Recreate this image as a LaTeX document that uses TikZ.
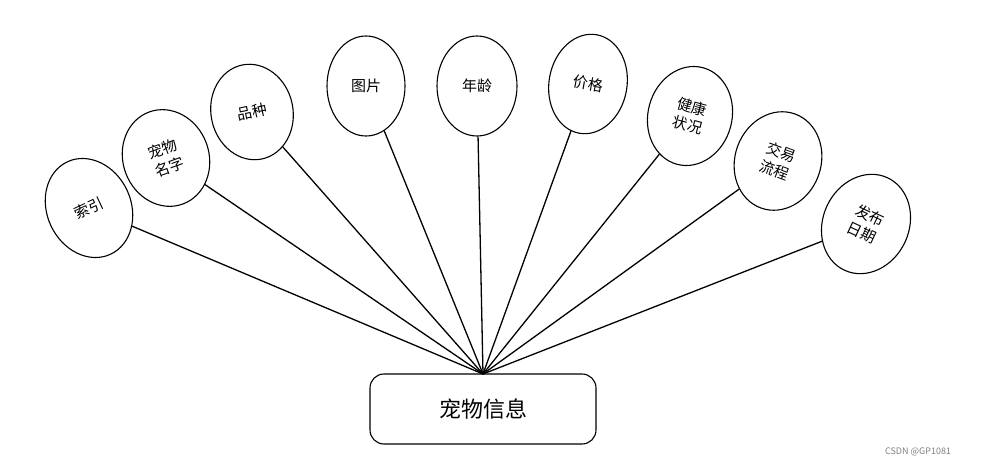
\documentclass[tikz,border=0pt]{standalone}
\usepackage{fontspec}
\setmainfont{Noto Sans CJK SC}
\usetikzlibrary{shapes.geometric}
\begin{document}
\begin{tikzpicture}[x=1pt,y=-1pt,
  attr/.style={draw,line width=1.1pt,ellipse,inner sep=0pt,minimum width=84pt,minimum height=102pt,font=\fontsize{15}{19}\selectfont,align=center},
  link/.style={line width=1.3pt}]
\useasboundingbox (0,0) rectangle (983,465);
\node[draw,line width=1.1pt,rounded corners=14pt,minimum width=226pt,minimum height=70pt,font=\fontsize{22}{26}\selectfont] (root) at (483,409) {宠物信息};
\coordinate (apex) at (483,374);
\node[attr,rotate=25] (a1) at (89,208) {索引};
\node[attr,rotate=20,minimum width=86pt,minimum height=98pt] (a2) at (166,158) {宠物\\名字};
\node[attr,rotate=12,minimum width=82pt,minimum height=96pt] (a3) at (252,112) {品种};
\node[attr,minimum width=78pt,minimum height=100pt] (a4) at (366,86) {图片};
\node[attr,minimum width=80pt,minimum height=100pt] (a5) at (477,86) {年龄};
\node[attr,rotate=-10,minimum width=78pt,minimum height=100pt] (a6) at (588,84) {价格};
\node[attr,rotate=-15,minimum width=84pt,minimum height=100pt] (a7) at (690,116) {健康\\状况};
\node[attr,rotate=-20,minimum width=86pt,minimum height=100pt] (a8) at (778,161) {交易\\流程};
\node[attr,rotate=-25,minimum width=86pt,minimum height=102pt] (a9) at (866,224) {发布\\日期};
\foreach \i in {1,...,9} \draw[link] (apex) -- (a\i);
\node[font=\fontsize{9}{10}\selectfont,text=gray] (wm) at (918,452) {CSDN @GP1081};
\end{tikzpicture}
\end{document}
